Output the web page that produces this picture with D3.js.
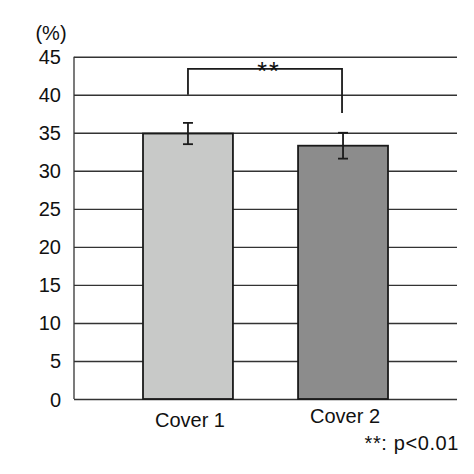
<!DOCTYPE html>
<html>
<head>
<meta charset="utf-8">
<script src="https://cdn.jsdelivr.net/npm/d3@7"></script>
<style>
  body { margin: 0; background: #fff; }
  svg text { font-family: "Liberation Sans", Arial, sans-serif; fill: #111; }
</style>
</head>
<body>
<div id="chart"></div>
<script>
// Chart data
const categories = ["Cover 1", "Cover 2"];
const means = [34.9, 33.3];
const errors = [1.4, 1.7];
const yTicks = [0, 5, 10, 15, 20, 25, 30, 35, 40, 45];
const barColors = ["#c8c9c8", "#8c8c8c"];

// Significance bracket: [left end, top level, right end] in % units
const bracket = [40, 43.4, 37.6];
const sigNote = "**: p<0.01";

const W = 474, H = 474;
const plot = { left: 74, right: 457, top: 56.7, bottom: 399 };

const svg = d3.select("#chart")
    .append("svg")
    .attr("width", W)
    .attr("height", H);

const x = d3.scaleBand()
    .domain(categories)
    .range([plot.left, plot.right])
    .paddingInner(0.42)
    .paddingOuter(0.445);

const y = d3.scaleLinear()
    .domain([0, 45])
    .range([plot.bottom, plot.top]);

// Gridlines
svg.append("g")
    .attr("transform", `translate(${plot.left},0)`)
    .call(d3.axisLeft(y)
        .tickValues(yTicks)
        .tickSize(-(plot.right - plot.left))
        .tickFormat(""))
    .call(g => g.select(".domain").remove())
    .selectAll("line")
    .attr("stroke", "#333")
    .attr("stroke-width", 1.4);

// Y axis line + labels
svg.append("line")
    .attr("x1", plot.left).attr("x2", plot.left)
    .attr("y1", y(45)).attr("y2", y(0))
    .attr("stroke", "#333")
    .attr("stroke-width", 1.3);

svg.selectAll(".ytick")
    .data(yTicks)
    .enter()
    .append("text")
    .attr("class", "ytick")
    .attr("x", 61)
    .attr("y", d => y(d) + 7.5)
    .attr("text-anchor", "end")
    .style("font-size", "20px")
    .text(d => d);

svg.append("text")
    .attr("x", 51)
    .attr("y", 40)
    .attr("text-anchor", "middle")
    .style("font-size", "20px")
    .text("(%)");

// Bars
const data = categories.map((c, i) => ({ cat: c, mean: means[i], err: errors[i], color: barColors[i] }));

svg.selectAll(".bar")
    .data(data)
    .enter()
    .append("rect")
    .attr("class", "bar")
    .attr("x", d => x(d.cat))
    .attr("y", d => y(d.mean))
    .attr("width", x.bandwidth())
    .attr("height", d => y(0) - y(d.mean))
    .attr("fill", d => d.color)
    .attr("stroke", "#1a1a1a")
    .attr("stroke-width", 1.8);

// Error bars
const eb = svg.selectAll(".err")
    .data(data)
    .enter()
    .append("g")
    .attr("class", "err")
    .attr("stroke", "#1a1a1a")
    .attr("stroke-width", 1.8);

eb.append("line")
    .attr("x1", d => x(d.cat) + x.bandwidth() / 2)
    .attr("x2", d => x(d.cat) + x.bandwidth() / 2)
    .attr("y1", d => y(d.mean + d.err))
    .attr("y2", d => y(d.mean - d.err));

[1, -1].forEach(s => {
    eb.append("line")
        .attr("x1", d => x(d.cat) + x.bandwidth() / 2 - 5)
        .attr("x2", d => x(d.cat) + x.bandwidth() / 2 + 5)
        .attr("y1", d => y(d.mean + s * d.err))
        .attr("y2", d => y(d.mean + s * d.err));
});

// Category labels (second label sits a little higher in the original)
const labelBase = [427.3, 423.3];
svg.selectAll(".xlabel")
    .data(categories)
    .enter()
    .append("text")
    .attr("class", "xlabel")
    .attr("x", d => x(d) + x.bandwidth() / 2 + 2)
    .attr("y", (d, i) => labelBase[i])
    .attr("text-anchor", "middle")
    .style("font-size", "20px")
    .text(d => d);

// Significance bracket
const cx0 = x(categories[0]) + x.bandwidth() / 2;
const cx1 = x(categories[1]) + x.bandwidth() / 2 - 1;
svg.append("path")
    .attr("d", d3.line()([
        [cx0, y(bracket[0])],
        [cx0, y(bracket[1])],
        [cx1, y(bracket[1])],
        [cx1, y(bracket[2])]
    ]))
    .attr("fill", "none")
    .attr("stroke", "#1a1a1a")
    .attr("stroke-width", 1.8);

svg.append("text")
    .attr("x", 269)
    .attr("y", y(bracket[1]) + 11)
    .attr("text-anchor", "middle")
    .style("font-size", "25px")
    .style("letter-spacing", "2px")
    .text("**");

svg.append("text")
    .attr("x", 459)
    .attr("y", 450)
    .attr("text-anchor", "end")
    .style("font-size", "20px")
    .style("letter-spacing", "0.6px")
    .text(sigNote);
</script>
</body>
</html>
